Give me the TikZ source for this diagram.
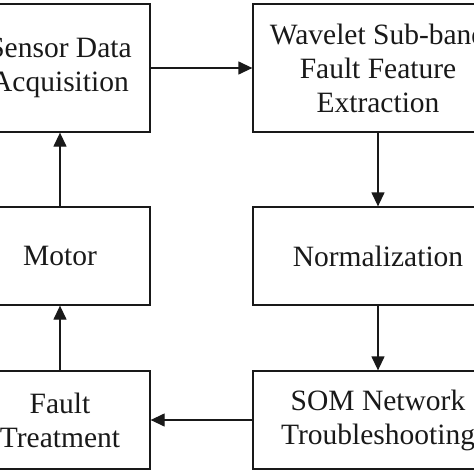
\documentclass[tikz,border=0pt]{standalone}
\usepackage{fontspec}
\setmainfont{Liberation Serif}
\usetikzlibrary{arrows.meta}
\begin{document}
\begin{tikzpicture}[x=1pt,y=-1pt,
  box/.style={draw=black!90,line width=1.3pt,rectangle,align=center,inner sep=0pt,
    font=\fontsize{29.5}{34}\selectfont,text=black!90},
  conn/.style={draw=black!90,line width=1.3pt,-{Triangle[length=14pt,width=13pt]}}]
\useasboundingbox (0,0) rectangle (474,474);
\clip (0,0) rectangle (474,474);
\node[box,minimum width=180pt,minimum height=128pt] (sensor) at (60,68) {Sensor Data\\Acquisition};
\node[box,minimum width=250pt,minimum height=128pt] (wavelet) at (378,68) {Wavelet Sub-band\\Fault Feature\\Extraction};
\node[box,minimum width=180pt,minimum height=98pt] (motor) at (60,256) {Motor};
\node[box,minimum width=250pt,minimum height=98pt] (norm) at (378,256) {Normalization};
\node[box,minimum width=180pt,minimum height=98pt] (fault) at (60,420) {Fault\\Treatment};
\node[box,minimum width=250pt,minimum height=98pt] (som) at (378,420) {SOM Network\\Troubleshooting};
\draw[conn] (sensor.east) -- (wavelet.west);
\draw[conn] (wavelet.south) -- (norm.north);
\draw[conn] (norm.south) -- (som.north);
\draw[conn] (som.west) -- (fault.east);
\draw[conn] (fault.north) -- (motor.south);
\draw[conn] (motor.north) -- (sensor.south);
\end{tikzpicture}
\end{document}
